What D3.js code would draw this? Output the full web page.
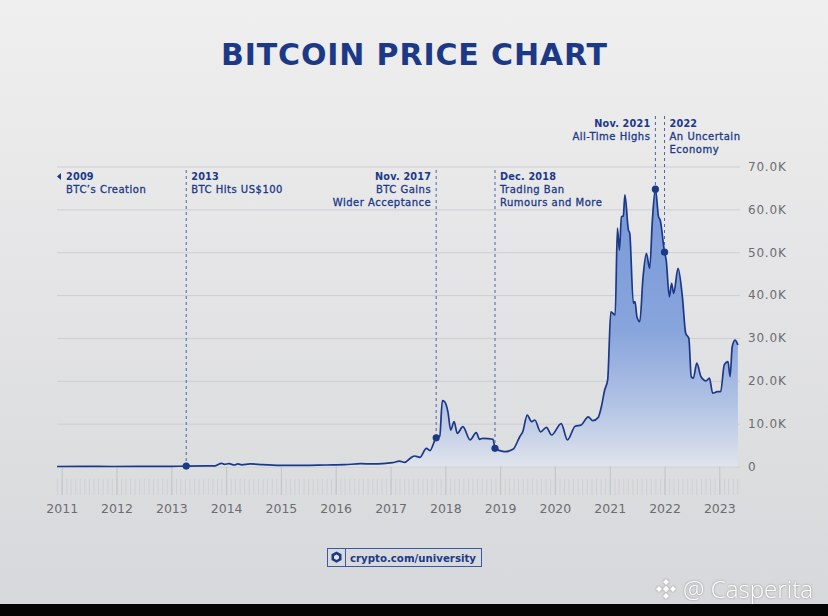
<!DOCTYPE html>
<html>
<head>
<meta charset="utf-8">
<script src="https://cdn.jsdelivr.net/npm/d3@7"></script>
<style>
  html, body { margin: 0; padding: 0; background: #000; }
  svg { display: block; }
</style>
</head>
<body>
<script>
var priceDates = ['2010-12-01','2011-06-01','2011-12-01','2012-06-01','2012-12-01','2013-04-10','2013-10-20','2013-12-01','2013-12-20','2014-01-20',
  '2014-02-25','2014-03-20','2014-04-15','2014-06-10','2014-09-01','2015-01-15','2015-06-01','2015-11-01','2016-03-01','2016-06-15',
  '2016-09-01','2016-12-01','2017-01-15','2017-03-01','2017-04-05','2017-05-15','2017-06-10','2017-07-15','2017-08-28','2017-09-20',
  '2017-11-01','2017-11-25','2017-12-12','2017-12-28','2018-01-18','2018-02-06','2018-02-28','2018-03-22','2018-04-28','2018-06-15',
  '2018-07-26','2018-08-17','2018-09-08','2018-11-15','2018-11-28','2018-12-31','2019-02-01','2019-03-28','2019-05-12','2019-06-01',
  '2019-07-01','2019-07-30','2019-08-20','2019-09-28','2019-11-06','2019-12-10','2020-02-12','2020-03-25','2020-05-15','2020-06-25',
  '2020-08-10','2020-09-10','2020-10-15','2020-11-06','2020-11-28','2020-12-18','2021-01-08','2021-02-06','2021-02-21','2021-03-06',
  '2021-03-20','2021-04-01','2021-04-12','2021-05-05','2021-05-14','2021-06-07','2021-06-18','2021-07-01','2021-07-20','2021-08-11',
  '2021-09-02','2021-09-24','2021-10-12','2021-11-01','2021-11-22','2021-12-03','2022-01-01','2022-01-12','2022-02-02','2022-02-17',
  '2022-03-03','2022-04-01','2022-04-30','2022-05-22','2022-06-12','2022-06-28','2022-07-12','2022-08-04','2022-09-01','2022-10-05',
  '2022-10-27','2022-11-18','2022-12-20','2023-01-10','2023-02-03','2023-02-28','2023-03-14','2023-03-28','2023-04-16','2023-05-05'];

var priceValues = [0, 20, 5, 7, 13, 100, 150, 750, 500, 650,
  350, 600, 400, 600, 450, 250, 250, 350, 420, 650,
  600, 750, 900, 1250, 950, 2000, 2450, 2150, 4250, 3700,
  6700, 7100, 15350, 15100, 12800, 8500, 10450, 7750, 9300, 6200,
  7900, 6350, 6580, 6350, 4250, 3700, 3450, 4000, 6950, 8100,
  12000, 10450, 10850, 8100, 9150, 7350, 10000, 6200, 9400, 9700,
  11600, 10700, 11400, 13950, 17850, 20200, 36100, 35350, 55600, 50500,
  58300, 58450, 63400, 55200, 54400, 38100, 38450, 34950, 33800, 44300,
  49750, 46250, 57500, 64700, 58300, 57500, 50000, 48200, 39600, 42750,
  40400, 46250, 39600, 31100, 29900, 20950, 20600, 24100, 20950, 20000,
  20600, 17100, 17450, 17450, 23700, 24450, 20950, 27950, 29500, 28350];

var yearTicks = ['2011','2012','2013','2014','2015','2016','2017','2018','2019','2020','2021','2022','2023'];
var priceTicks = [0, 10000, 20000, 30000, 40000, 50000, 60000, 70000];
var priceTickLabels = ['0', '10.0K', '20.0K', '30.0K', '40.0K', '50.0K', '60.0K', '70.0K'];

var eventDates = ['2013-04-10', '2017-11-01', '2018-11-28', '2021-11-01', '2022-01-01'];
var eventValues = [100, 6700, 4250, 64700, 50000];
var eventTitles = ['2013', 'Nov. 2017', 'Dec. 2018', 'Nov. 2021', '2022'];
var eventNotes = [['BTC Hits US$100'], ['BTC Gains', 'Wider Acceptance'], ['Trading Ban', 'Rumours and More'],
  ['All-Time Highs'], ['An Uncertain', 'Economy']];
var originTitle = '2009', originNote = "BTC’s Creation";

var W = 828, H = 616;
var navy = '#1c3987', grey = '#6c6d70';
var parse = d3.timeParse('%Y-%m-%d');

var data = priceDates.map(function(d, i) { return {date: parse(d), value: priceValues[i]}; });

var svg = d3.select('body').append('svg')
    .attr('width', W)
    .attr('height', H);

var defs = svg.append('defs');
var bg = defs.append('linearGradient').attr('id', 'bg')
    .attr('x1', 0).attr('y1', 0).attr('x2', 0).attr('y2', 1);
bg.append('stop').attr('offset', '0%').attr('stop-color', '#efefef');
bg.append('stop').attr('offset', '100%').attr('stop-color', '#d7d8db');

var areaGrad = defs.append('linearGradient').attr('id', 'areaGrad')
    .attr('gradientUnits', 'userSpaceOnUse')
    .attr('x1', 0).attr('y1', 190).attr('x2', 0).attr('y2', 466);
areaGrad.append('stop').attr('offset', '0%').attr('stop-color', '#7a99d8');
areaGrad.append('stop').attr('offset', '50%').attr('stop-color', '#87a4dc');
areaGrad.append('stop').attr('offset', '78%').attr('stop-color', '#b2c3e4');
areaGrad.append('stop').attr('offset', '100%').attr('stop-color', '#dfe3ec');

svg.append('rect')
    .attr('width', W).attr('height', 604)
    .attr('fill', 'url(#bg)');
svg.append('rect')
    .attr('y', 604).attr('width', W).attr('height', H - 604)
    .attr('fill', '#040404');

// title
svg.append('text')
    .attr('x', 414).attr('y', 65)
    .attr('text-anchor', 'middle')
    .attr('textLength', 386).attr('lengthAdjust', 'spacing')
    .style('font-family', '"DejaVu Sans", sans-serif')
    .style('font-weight', 700)
    .style('font-size', '30px')
    .style('fill', navy)
    .text('BITCOIN PRICE CHART');

var x = d3.scaleTime()
    .domain([parse('2011-01-01'), parse('2023-01-01')])
    .range([61.7, 719.3]);
var y = d3.scaleLinear()
    .domain([0, 70000])
    .range([466.5, 166.5]);

// grid + price labels
var gridLeft = 57, gridRight = 740;
var yAxis = d3.axisRight(y)
    .tickValues(priceTicks)
    .tickSize(gridRight - gridLeft)
    .tickPadding(8)
    .tickFormat(function(d, i) { return priceTickLabels[i]; });
var $y = svg.append('g')
    .attr('transform', 'translate(' + gridLeft + ',0)')
    .call(yAxis);
$y.select('.domain').remove();
$y.selectAll('line').attr('stroke', '#cdced2');
$y.selectAll('text')
    .style('font-family', '"DejaVu Sans", sans-serif')
    .style('font-size', '12px')
    .style('letter-spacing', '0.8px')
    .style('fill', grey);

// month ticks
var months = d3.timeMonth.range(parse('2010-12-01'), parse('2023-06-01'));
var monthAxis = d3.axisBottom(x)
    .tickValues(months)
    .tickSize(16)
    .tickFormat('');
var $m = svg.append('g')
    .attr('transform', 'translate(0,479)')
    .call(monthAxis);
$m.select('.domain').remove();
$m.selectAll('line').attr('stroke', '#cfd0d4');

var yearAxis = d3.axisBottom(x)
    .tickValues(yearTicks.map(function(d) { return parse(d + '-01-01'); }))
    .tickSize(29)
    .tickPadding(9)
    .tickFormat(function(d, i) { return yearTicks[i]; });
var $x = svg.append('g')
    .attr('transform', 'translate(0,466)')
    .call(yearAxis);
$x.select('.domain').remove();
$x.selectAll('line').attr('stroke', '#c2c3c7');
$x.selectAll('text')
    .style('font-family', '"DejaVu Sans", sans-serif')
    .style('font-size', '12.5px')
    .style('fill', grey);

// area + line
var area = d3.area()
    .x(function(d) { return x(d.date); })
    .y0(y(0))
    .y1(function(d) { return y(d.value); })
    .curve(d3.curveMonotoneX);
var line = d3.line()
    .x(function(d) { return x(d.date); })
    .y(function(d) { return y(d.value); })
    .curve(d3.curveMonotoneX);

svg.append('path')
    .datum(data)
    .attr('d', area)
    .attr('fill', 'url(#areaGrad)');
svg.append('path')
    .datum(data)
    .attr('d', line)
    .attr('fill', 'none')
    .attr('stroke', navy)
    .attr('stroke-width', 1.7)
    .attr('stroke-linejoin', 'round');

// events
var rowTop = [170, 170, 170, 116, 116];
var rowBase = [180, 180, 180, 126.5, 126.5];
var sideRight = [true, false, true, false, true];

var $ev = svg.append('g').selectAll('g')
    .data(eventDates)
    .join('g');

$ev.append('line')
    .attr('x1', function(d) { return x(parse(d)); })
    .attr('x2', function(d) { return x(parse(d)); })
    .attr('y1', function(d, i) { return rowTop[i]; })
    .attr('y2', function(d, i) { return y(eventValues[i]); })
    .attr('stroke', '#4a64a6')
    .attr('stroke-width', 1)
    .attr('stroke-dasharray', '3,3');

$ev.append('circle')
    .attr('cx', function(d) { return x(parse(d)); })
    .attr('cy', function(d, i) { return y(eventValues[i]); })
    .attr('r', 3.6)
    .attr('fill', navy);

function styleNote(sel, first) {
    sel.style('font-family', '"DejaVu Sans", sans-serif')
        .style('font-size', first ? '9.7px' : '10px')
        .style('font-weight', first ? 700 : 400)
        .style('letter-spacing', first ? '0.2px' : '0.5px')
        .style('stroke', first ? 'none' : navy)
        .style('stroke-width', first ? 0 : 0.3)
        .style('fill', navy);
}

$ev.each(function(d, i) {
    var g = d3.select(this);
    var right = sideRight[i];
    var tx = x(parse(d)) + (right ? 5 : -5);
    var lines = [eventTitles[i]].concat(eventNotes[i]);
    g.selectAll('text')
        .data(lines)
        .join('text')
            .attr('x', tx)
            .attr('y', function(t, j) { return rowBase[i] + j * 13; })
            .attr('text-anchor', right ? 'start' : 'end')
            .text(function(t) { return t; })
            .each(function(t, j) { styleNote(d3.select(this), j == 0); });
});

// 2009 origin label
svg.append('path')
    .attr('d', 'M57,176.5L61,173L61,180Z')
    .attr('fill', navy);
svg.append('text')
    .attr('x', 66).attr('y', 180)
    .text(originTitle)
    .call(styleNote, true);
svg.append('text')
    .attr('x', 66).attr('y', 193)
    .text(originNote)
    .call(styleNote, false);

// footer
var $f = svg.append('g');
$f.append('rect')
    .attr('x', 327.5).attr('y', 548.5).attr('width', 154).attr('height', 18)
    .attr('fill', 'none').attr('stroke', '#3a59a8').attr('stroke-width', 1);
$f.append('line')
    .attr('x1', 345.5).attr('x2', 345.5).attr('y1', 548.5).attr('y2', 566.5)
    .attr('stroke', '#3a59a8');
$f.append('path')
    .attr('d', 'M336.5,551.5L341.5,554.3L341.5,560L336.5,562.8L331.5,560L331.5,554.3Z')
    .attr('fill', navy);
$f.append('path')
    .attr('d', 'M336.5,554.5L339,556L339,558.5L336.5,560L334,558.5L334,556Z')
    .attr('fill', '#e4e5e8');
$f.append('text')
    .attr('x', 350).attr('y', 561.5)
    .attr('textLength', 126).attr('lengthAdjust', 'spacingAndGlyphs')
    .style('font-family', '"DejaVu Sans", sans-serif')
    .style('font-size', '11px').style('font-weight', 700)
    .style('fill', navy)
    .text('crypto.com/university');

// watermark
var $w = svg.append('g')
    .style('filter', 'drop-shadow(0px 0px 1px rgba(90,90,90,0.6))');
var diamonds = [[666, 582], [659, 589], [673, 589], [666, 596], [666, 589]];
$w.selectAll('path')
    .data(diamonds)
    .join('path')
        .attr('d', function(p, i) {
            var s = i == 4 ? 3.2 : 3;
            return 'M' + p[0] + ',' + (p[1] - s) + 'L' + (p[0] + s) + ',' + p[1] + 'L' + p[0] + ',' + (p[1] + s) + 'L' + (p[0] - s) + ',' + p[1] + 'Z';
        })
        .attr('fill', '#ffffff');
$w.append('text')
    .attr('x', 683).attr('y', 598)
    .attr('textLength', 130).attr('lengthAdjust', 'spacingAndGlyphs')
    .style('font-family', '"Open Sans", "Noto Sans", sans-serif')
    .style('font-size', '24px')
    .style('font-weight', 300)
    .style('fill', '#ffffff')
    .text('@ Casperita');
</script>
</body>
</html>
